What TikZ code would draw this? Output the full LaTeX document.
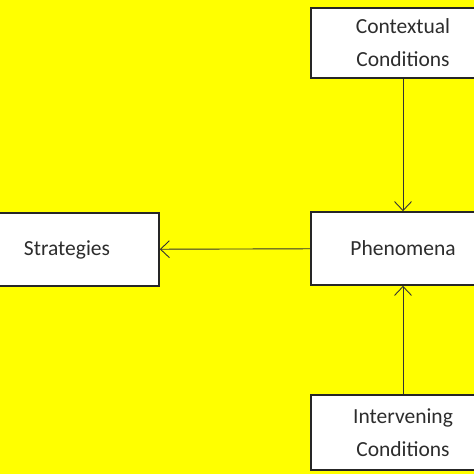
\documentclass[tikz,border=0pt]{standalone}
\usepackage{fontspec}
\setmainfont{Carlito}
\usetikzlibrary{arrows.meta}
\definecolor{bgyellow}{RGB}{255,255,0}
\definecolor{txtgray}{RGB}{45,45,45}

\begin{document}
\begin{tikzpicture}[x=1pt,y=-1pt,
    box/.style={draw=black!85,line width=1.6pt,fill=white,text=txtgray,
      minimum width=184pt,align=center,font=\fontsize{21.5}{33}\selectfont},
    link/.style={draw=black!80,line width=0.9pt,-{Straight Barb[length=9pt,width=17pt,line width=0.9pt]}}]
          \useasboundingbox (0,0) rectangle (474,474);
          \clip (0,0) rectangle (474,474);
          \fill[bgyellow] (0,0) rectangle (474,474);

          % Boxes
          \node[box,minimum height=70pt] (context) at (403,43) {Contextual\\Conditions};
          \node[box,minimum height=73pt] (phen) at (403,248.5) {Phenomena};
          \node[box,minimum height=73pt] (strat) at (67,249.5) {Strategies};
          \node[box,minimum height=75pt] (interv) at (403,432.5) {Intervening\\Conditions};

          % Arrows
          \draw[link] (context) -- (phen);
          \draw[link] (interv) -- (phen);
          \draw[link] (phen) -- (strat);
        \end{tikzpicture}
\end{document}
